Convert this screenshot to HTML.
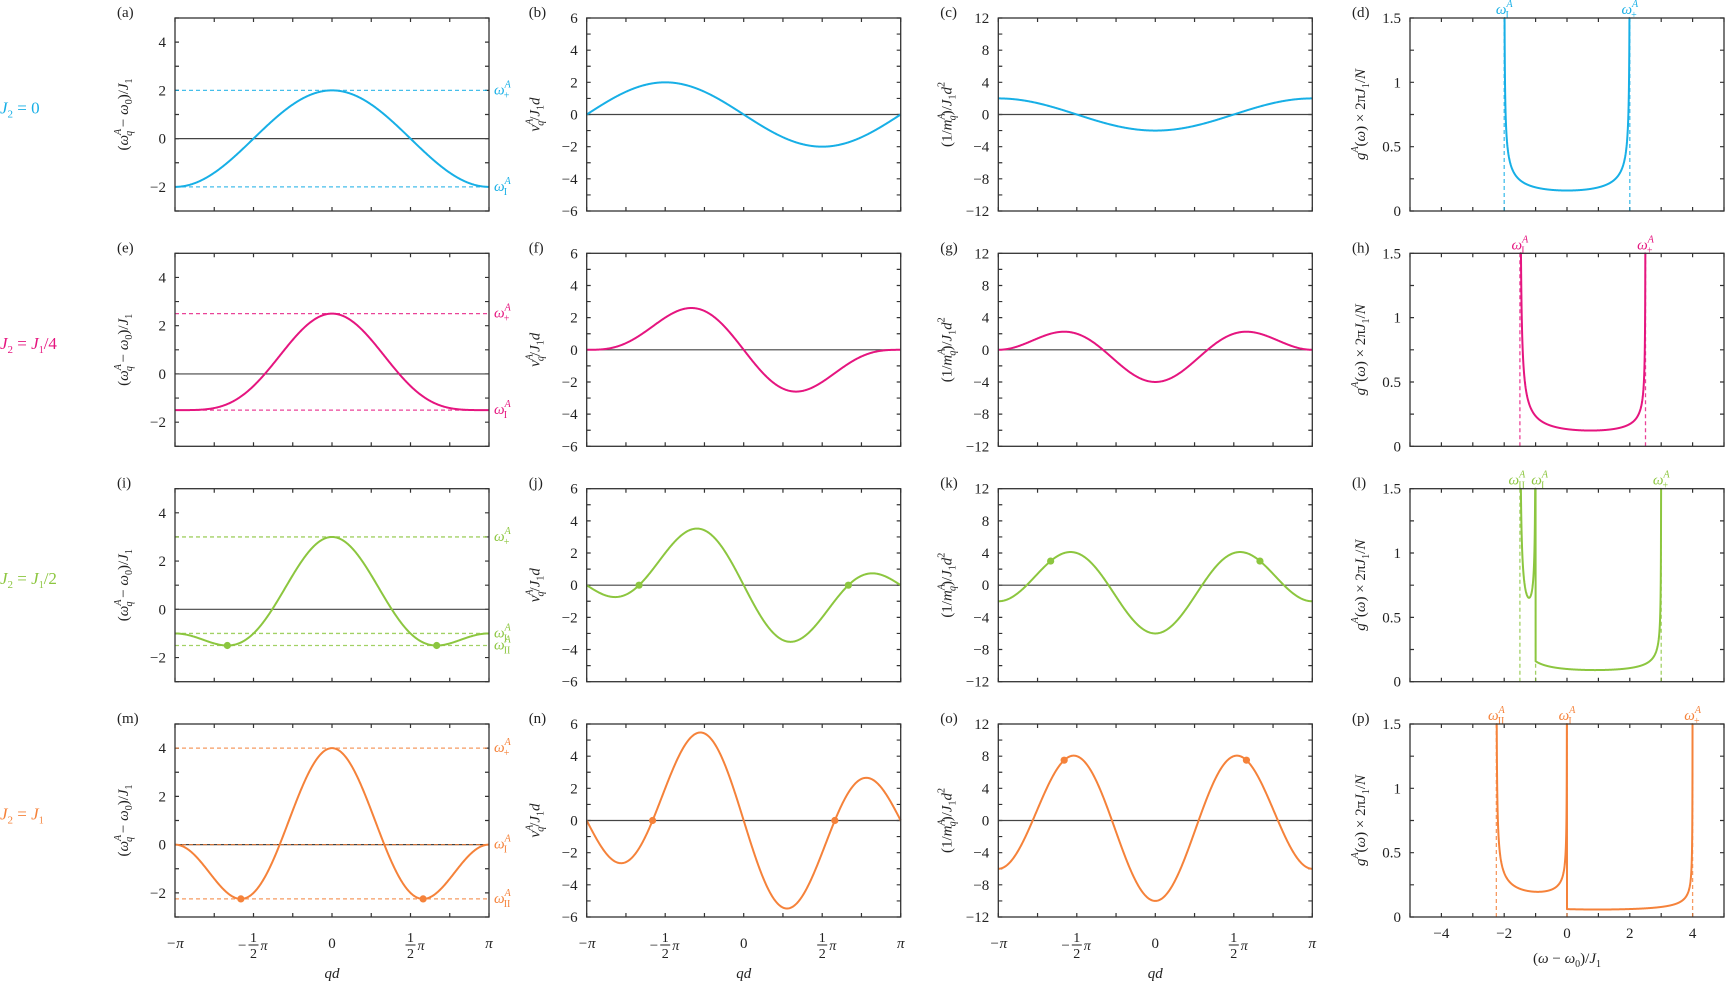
<!DOCTYPE html>
<html><head><meta charset="utf-8"><style>
html,body{margin:0;padding:0;background:#fff;}
svg text{font-family:"Liberation Serif",serif;fill:#222;}
</style></head><body>
<svg id="s" width="1725" height="981" xmlns="http://www.w3.org/2000/svg"></svg>
<script>
const S=document.getElementById('s');
let out='';
const cols=[175,586.7,998.3,1410],W=314,tops=[18,253.3,488.7,724],H=193;
const J2s=[0,0.25,0.5,1];
const C=['#17afe6','#e5157f','#8cc63f','#f5823a'];
const yr=[[-3,5,2,1],[-6,6,2,1],[-12,12,4,2],[0,1.5,0.5,0.25]];
const letters='abcdefghijklmnop';
function om(q,J){return 2*Math.cos(q)+2*J*Math.cos(2*q);}
function vv(q,J){return -2*Math.sin(q)-4*J*Math.sin(2*q);}
function mm(q,J){return -2*Math.cos(q)-8*J*Math.cos(2*q);}
function fmt(v){let s=(Math.round(v*100)/100).toString();return s.replace('-','−');}
function wlab(x,y,sub,col,anchor){
  return `<text x="${x}" y="${y}" font-size="15" style="fill:${col}" text-anchor="${anchor||'start'}"><tspan font-style="italic">ω</tspan><tspan font-size="10" dy="-7" font-style="italic">A</tspan><tspan font-size="10" dx="-7" dy="11">${sub}</tspan></text>`;
}
for(let r=0;r<4;r++){
  const J=J2s[r],col=C[r],T=tops[r];
  const edges=r==0?[[2,'+'],[-2,'I']]:r==1?[[2.5,'+'],[-1.5,'I']]:r==2?[[3,'+'],[-1,'I'],[-1.5,'II']]:[[4,'+'],[0,'I'],[-2.25,'II']];
  const qmin=r>=2?Math.acos(r==2?-0.5:-0.25):null;
  const lab=r==0?'0':r==1?'<tspan font-style="italic">J</tspan><tspan font-size="10" dy="4">1</tspan><tspan dy="-4">/4</tspan>':r==2?'<tspan font-style="italic">J</tspan><tspan font-size="10" dy="4">1</tspan><tspan dy="-4">/2</tspan>':'<tspan font-style="italic">J</tspan><tspan font-size="10" dy="4">1</tspan>';
  out+=`<text x="0" y="${T+H/2-1}" font-size="17" style="fill:${col}"><tspan font-style="italic">J</tspan><tspan font-size="11" dy="4">2</tspan><tspan dy="-4"> = </tspan>${lab}</text>`;
  for(let c=0;c<4;c++){
    const L=cols[c],[y0,y1,maj,mn]=yr[c];
    const Y=v=>T+H-(v-y0)/(y1-y0)*H;
    const X=c<3?(q=>L+(q+Math.PI)/(2*Math.PI)*W):(w=>L+(w+5)/10*W);
    out+=`<text x="${L-58}" y="${T-1}" font-size="15">(${letters[r*4+c]})</text>`;
    let tk='';
    for(let v=y0;v<=y1+1e-9;v+=mn){const y=Y(v);tk+=`M${L},${y}h4M${L+W},${y}h-4`;}
    for(let v=Math.ceil(y0/maj-1e-9)*maj;v<=y1+1e-9;v+=maj){out+=`<text x="${L-9}" y="${Y(v)+5}" font-size="15" text-anchor="end">${fmt(v)}</text>`;}
    if(c<3){for(let k=0;k<=8;k++){const x=L+k*W/8;tk+=`M${x},${T}v4M${x},${T+H}v-4`;}}
    else{for(let k=-5;k<=5;k++){const x=X(k);tk+=`M${x},${T}v4M${x},${T+H}v-4`;}}
    out+=`<path d="${tk}" stroke="#333" stroke-width="1.2" fill="none"/>`;
    if(c<3) out+=`<line x1="${L}" x2="${L+W}" y1="${Y(0)}" y2="${Y(0)}" stroke="#444" stroke-width="1.2"/>`;
    const cy=T+H/2,cx=L-47;
    let tt='';
    if(c==0) tt='(<tspan font-style="italic">ω</tspan><tspan font-size="10" dy="-7" font-style="italic">A</tspan><tspan font-size="10" dx="-7" dy="11" font-style="italic">q</tspan><tspan dy="-4"> − </tspan><tspan font-style="italic">ω</tspan><tspan font-size="10" dy="4">0</tspan><tspan dy="-4">)/</tspan><tspan font-style="italic">J</tspan><tspan font-size="10" dy="4">1</tspan>';
    if(c==1) tt='<tspan font-style="italic">v</tspan><tspan font-size="10" dy="-7" font-style="italic">A</tspan><tspan font-size="10" dx="-7" dy="11" font-style="italic">q</tspan><tspan dy="-4">/</tspan><tspan font-style="italic">J</tspan><tspan font-size="10" dy="4">1</tspan><tspan dy="-4" font-style="italic">d</tspan>';
    if(c==2) tt='(1/<tspan font-style="italic">m</tspan><tspan font-size="10" dy="-7" font-style="italic">A</tspan><tspan font-size="10" dx="-7" dy="11" font-style="italic">q</tspan><tspan dy="-4">)/</tspan><tspan font-style="italic">J</tspan><tspan font-size="10" dy="4">1</tspan><tspan dy="-4" font-style="italic">d</tspan><tspan font-size="10" dy="-7">2</tspan>';
    if(c==3) tt='<tspan font-style="italic">g</tspan><tspan font-size="10" dy="-7" font-style="italic">A</tspan><tspan dy="7">(</tspan><tspan font-style="italic">ω</tspan>) × 2π<tspan font-style="italic">J</tspan><tspan font-size="10" dy="4">1</tspan><tspan dy="-4">/</tspan><tspan font-style="italic">N</tspan>';
    out+=`<text transform="translate(${cx+(c==3?2:0)},${cy}) rotate(-90)" text-anchor="middle" font-size="15">${tt}</text>`;
    if(c<3){
      const f=c==0?om:c==1?vv:mm;
      if(c==0){
        for(const [e,sub] of edges){const y=Y(e);
          out+=`<line x1="${L}" x2="${L+W}" y1="${y}" y2="${y}" stroke="${col}" stroke-width="1.3" stroke-dasharray="4,3" opacity="0.8"/>`;
          out+=wlab(L+W+5,y+4,sub,col);}
      }
      let d='';
      for(let i=0;i<=600;i++){const q=-Math.PI+2*Math.PI*i/600;d+=(i?'L':'M')+X(q).toFixed(2)+','+Y(f(q,J)).toFixed(2);}
      out+=`<path d="${d}" stroke="${col}" stroke-width="2" fill="none"/>`;
      if(qmin){for(const q of [-qmin,qmin]) out+=`<circle cx="${X(q)}" cy="${Y(f(q,J))}" r="3.6" fill="${col}"/>`;}
      if(r==3){
        const by=948;
        const pos=[[-Math.PI,'−π'],[0,'0'],[Math.PI,'π']];
        for(const [q,t] of pos) out+=`<text x="${X(q)}" y="${by}" font-size="15" text-anchor="middle" ${t!='0'?'font-style="italic"':''}>${t}</text>`;
        for(const s of [-1,1]){const x=X(s*Math.PI/2);
          out+=`<text x="${x}" y="942" font-size="14" text-anchor="middle">1</text><line x1="${x-5}" x2="${x+5}" y1="945" y2="945" stroke="#222" stroke-width="1"/><text x="${x}" y="958" font-size="14" text-anchor="middle">2</text><text x="${x+7}" y="950" font-size="14" font-style="italic">π</text>`;
          if(s<0) out+=`<text x="${x-7}" y="950" font-size="15" text-anchor="end">−</text>`;}
        out+=`<text x="${L+W/2}" y="978" font-size="15" text-anchor="middle" font-style="italic">qd</text>`;
      }
    } else {
      for(const [e,sub] of edges){const x=X(e);
        out+=`<line x1="${x}" x2="${x}" y1="${T}" y2="${T+H}" stroke="${col}" stroke-width="1.3" stroke-dasharray="4,3" opacity="0.8"/>`;
        let dx=0; if(r==2&&sub=='II')dx=-3; if(r==2&&sub=='I')dx=4;
        out+=wlab(x+dx,T-4,sub,col,'middle');}
      const lo=Math.min(...edges.map(e=>e[0])),hi=Math.max(...edges.map(e=>e[0]));
      function g(w){let s=0;
        if(J==0){const cc=w/2;if(Math.abs(cc)<1)s=2/(2*Math.sqrt(1-cc*cc));}
        else{const a=4*J,b=2,k=-2*J-w,D=b*b-4*a*k;if(D>=0){for(const sg of [-1,1]){const cc=(-b+sg*Math.sqrt(D))/(2*a);if(cc>-1&&cc<1){s+=2/(Math.abs(2+8*J*cc)*Math.sqrt(1-cc*cc));}}}}
        return Math.min(s/(2*Math.PI),1.5);}
      let d='',n=3000;
      for(let i=0;i<=n;i++){let w=lo+1e-6+(hi-lo-2e-6)*i/n;d+=(i?'L':'M')+X(w).toFixed(2)+','+Y(g(w)).toFixed(2);}
      out+=`<path d="${d}" stroke="${col}" stroke-width="2" fill="none" stroke-linejoin="round"/>`;
      if(r==3){
        for(const v of [-4,-2,0,2,4]) out+=`<text x="${X(v)}" y="938" font-size="15" text-anchor="middle">${fmt(v)}</text>`;
        out+=`<text x="${L+W/2}" y="963" font-size="15" text-anchor="middle">(<tspan font-style="italic">ω</tspan> − <tspan font-style="italic">ω</tspan><tspan font-size="10" dy="4">0</tspan><tspan dy="-4">)/</tspan><tspan font-style="italic">J</tspan><tspan font-size="10" dy="4">1</tspan></text>`;
      }
    }
    out+=`<rect x="${L}" y="${T}" width="${W}" height="${H}" fill="none" stroke="#333" stroke-width="1.3"/>`;
  }
}
S.innerHTML=out;
</script>
</body></html>
